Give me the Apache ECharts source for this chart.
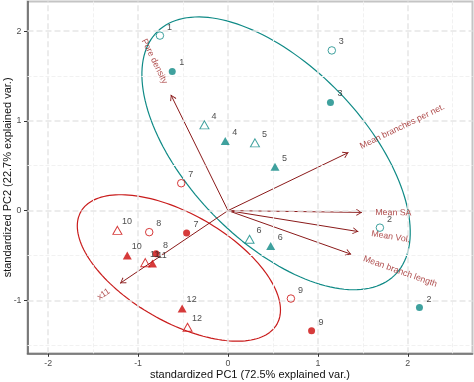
<!DOCTYPE html>
<html><head><meta charset="utf-8">
<script src="https://cdn.jsdelivr.net/npm/echarts@6/dist/echarts.min.js"></script>
<style>html,body{margin:0;padding:0;background:#fff}#c{width:474px;height:382px}</style>
</head><body><div id="c"></div>
<script>
// ---- axis ticks ----
const xTicks = [-2, -1, 0, 1, 2];
const yTicks = [-1, 0, 1, 2];
const xMinorGrid = [-1.5, -0.5, 0.5, 1.5, 2.5];
const yMinorGrid = [-1.5, -0.5, 0.5, 1.5];

// ---- observations (PC1, PC2) ----
const tealOpenCircleLabels = ['1', '2', '3'];
const tealOpenCircleX = [-0.757, 1.69, 1.155];
const tealOpenCircleY = [1.95, -0.19, 1.785];

const tealFilledCircleLabels = ['1', '2', '3'];
const tealFilledCircleX = [-0.62, 2.13, 1.14];
const tealFilledCircleY = [1.55, -1.08, 1.205];

const tealOpenTriLabels = ['4', '5', '6'];
const tealOpenTriX = [-0.262, 0.30, 0.24];
const tealOpenTriY = [0.955, 0.755, -0.32];

const tealFilledTriLabels = ['4', '5', '6'];
const tealFilledTriX = [-0.03, 0.523, 0.475];
const tealFilledTriY = [0.775, 0.49, -0.395];

const redOpenCircleLabels = ['7', '8', '9'];
const redOpenCircleX = [-0.52, -0.876, 0.70];
const redOpenCircleY = [0.305, -0.24, -0.98];

const redFilledCircleLabels = ['7', '8', '9'];
const redFilledCircleX = [-0.46, -0.80, 0.93];
const redFilledCircleY = [-0.25, -0.48, -1.34];

const redOpenTriLabels = ['10', '11', '12'];
const redOpenTriX = [-1.23, -0.92, -0.45];
const redOpenTriY = [-0.22, -0.58, -1.30];

const redFilledTriLabels = ['10', '11', '12'];
const redFilledTriX = [-1.12, -0.84, -0.51];
const redFilledTriY = [-0.50, -0.59, -1.09];

// ---- variable loadings (arrows) ----
const varNames = ['Pore density', 'Mean branches per net.', 'Mean SA', 'Mean Vol.', 'Mean branch length', 'x11'];
const arrowX = [-0.635, 1.34, 1.49, 1.45, 1.37, -1.20];
const arrowY = [1.29, 0.647, -0.02, -0.234, -0.486, -0.81];
const varnameAdjust = 1.1;

// ---- group ellipses (centre, semi-axes, angle in degrees) ----
const ellipseNames = ['teal', 'red'];
const ellipseCx = [0.535, -0.546];
const ellipseCy = [0.638, -0.639];
const ellipseA = [1.893, 1.258];
const ellipseB = [0.977, 0.60];
const ellipseAngle = [-45.9, -30];

// ---- styling ----
const TEAL = '#0f8a86';
const RED = '#cc0a0a';
const ARROW = '#8b1a1a';
const FONT = '"Liberation Sans", Arial, Helvetica, sans-serif';

function pts(xs, ys, labels) {
  return xs.map((x, i) => ({ value: [x, ys[i]], name: labels[i] }));
}
function ellipsePts(i) {
  const out = [];
  const th = ellipseAngle[i] * Math.PI / 180;
  const n = 160;
  for (let k = 0; k <= n; k++) {
    const t = k / n * 2 * Math.PI;
    out.push([
      ellipseCx[i] + ellipseA[i] * Math.cos(th) * Math.cos(t) - ellipseB[i] * Math.sin(th) * Math.sin(t),
      ellipseCy[i] + ellipseA[i] * Math.sin(th) * Math.cos(t) + ellipseB[i] * Math.cos(th) * Math.sin(t)
    ]);
  }
  return out;
}
function scatter(data, symbol, size, color, filled) {
  return {
    type: 'scatter', data, symbol, symbolSize: size, z: 6, silent: true,
    itemStyle: filled ? { color } : { color: 'rgba(0,0,0,0)', borderColor: color, borderWidth: 1 },
    label: { show: true, position: 'inside', offset: [9.5, -8.5], formatter: p => p.name,
      color: '#1a1a1a', fontSize: 9, fontFamily: FONT },
    emphasis: { disabled: true }
  };
}

const chevron = 'path://M0,0 L0.01,0 M12,12 L11.99,12 M6,6 L9.4,11.3 L8.6,11.8 L6,7.4 L3.4,11.8 L2.6,11.3 Z';

const gridLines = [];
xMinorGrid.forEach(v => gridLines.push({ xAxis: v, lineStyle: { color: '#f1f1f1', width: 1 } }));
yMinorGrid.forEach(v => gridLines.push({ yAxis: v, lineStyle: { color: '#f1f1f1', width: 1 } }));
xTicks.forEach(v => gridLines.push({ xAxis: v, lineStyle: { color: '#e6e6e6', width: 1.5 } }));
yTicks.forEach(v => gridLines.push({ yAxis: v, lineStyle: { color: '#e6e6e6', width: 1.5 } }));

const arrowData = varNames.map((n, i) => ({ coords: [[0, 0], [arrowX[i], arrowY[i]]] }));
const varLabelData = varNames.map((n, i) => {
  const x = arrowX[i], y = arrowY[i];
  const ang = Math.atan(y / x) * 180 / Math.PI;
  return { value: [x * varnameAdjust, y * varnameAdjust], name: n,
    label: { rotate: ang, align: x >= 0 ? 'left' : 'right' } };
});

const chart = echarts.init(document.getElementById('c'), null, { renderer: 'canvas' });
chart.setOption({
  animation: false,
  backgroundColor: '#ffffff',
  grid: { left: 27.5, right: 1.5, top: 1.5, bottom: 28.7, containLabel: false, outerBoundsMode: 'none',
    show: true, borderColor: '#c4c4c4', borderWidth: 2, backgroundColor: 'transparent' },
  xAxis: {
    type: 'value', min: -2.23, max: 2.72,
    name: 'standardized PC1 (72.5% explained var.)', nameLocation: 'middle', nameGap: 16.5,
    nameMoveOverlap: false,
    nameTextStyle: { color: '#111', fontSize: 11, fontFamily: FONT },
    axisLine: { show: true, onZero: false, lineStyle: { color: '#666', width: 1.6 } },
    axisTick: { show: true, length: 3.5, customValues: xTicks, lineStyle: { color: '#333', width: 1 } },
    axisLabel: { customValues: xTicks, color: '#4d4d4d', fontSize: 8.8, fontFamily: FONT, margin: 5.5 },
    splitLine: { show: false }
  },
  yAxis: {
    type: 'value', min: -1.59, max: 2.33,
    name: 'standardized PC2 (22.7% explained var.)', nameLocation: 'middle', nameGap: 14, nameRotate: 90,
    nameMoveOverlap: false,
    nameTextStyle: { color: '#111', fontSize: 11, fontFamily: FONT },
    axisLine: { show: true, onZero: false, lineStyle: { color: '#666', width: 1.6 } },
    axisTick: { show: true, length: 3.5, customValues: yTicks, lineStyle: { color: '#333', width: 1 } },
    axisLabel: { customValues: yTicks, color: '#4d4d4d', fontSize: 8.8, fontFamily: FONT, margin: 6 },
    splitLine: { show: false }
  },
  series: [
    { type: 'scatter', data: [], z: 0, silent: true,
      markLine: { silent: true, symbol: 'none', label: { show: false }, animation: false,
        emphasis: { disabled: true }, data: gridLines } },
    { type: 'line', data: ellipsePts(0), showSymbol: false, symbol: 'none', z: 3, silent: true,
      lineStyle: { color: TEAL, width: 1.2 } },
    { type: 'line', data: ellipsePts(1), showSymbol: false, symbol: 'none', z: 3, silent: true,
      lineStyle: { color: '#c91c1c', width: 1.2 } },
    { type: 'lines', coordinateSystem: 'cartesian2d', data: arrowData, z: 4, silent: true,
      symbol: ['none', chevron], symbolSize: 12,
      lineStyle: { color: ARROW, width: 1, opacity: 1 } },
    { type: 'scatter', data: varLabelData, symbolSize: 0, z: 5, silent: true,
      label: { show: true, position: 'inside', formatter: p => p.name, color: '#9b2020',
        fontSize: 8.8, fontFamily: FONT, verticalAlign: 'middle' } },
    scatter(pts(tealOpenCircleX, tealOpenCircleY, tealOpenCircleLabels), 'circle', 7.5, TEAL, false),
    scatter(pts(tealFilledCircleX, tealFilledCircleY, tealFilledCircleLabels), 'circle', 7, TEAL, true),
    scatter(pts(tealOpenTriX, tealOpenTriY, tealOpenTriLabels), 'triangle', [9, 8], TEAL, false),
    scatter(pts(tealFilledTriX, tealFilledTriY, tealFilledTriLabels), 'triangle', [9, 8], TEAL, true),
    scatter(pts(redOpenCircleX, redOpenCircleY, redOpenCircleLabels), 'circle', 7.5, RED, false),
    scatter(pts(redFilledCircleX, redFilledCircleY, redFilledCircleLabels), 'circle', 7, RED, true),
    scatter(pts(redOpenTriX, redOpenTriY, redOpenTriLabels), 'triangle', [9, 8], RED, false),
    scatter(pts(redFilledTriX, redFilledTriY, redFilledTriLabels), 'triangle', [9, 8], RED, true)
  ]
});
</script>
</body></html>
